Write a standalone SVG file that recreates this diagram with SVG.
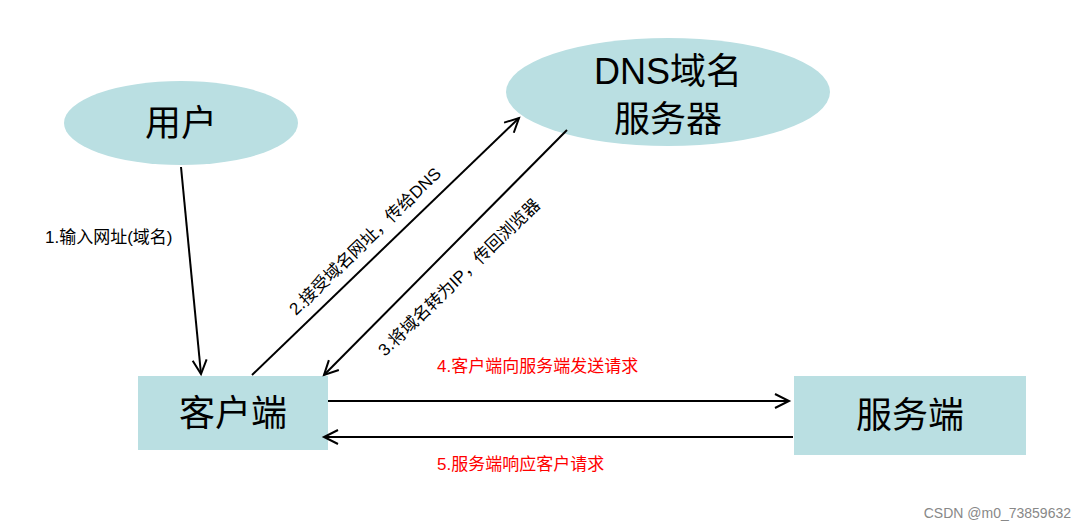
<svg xmlns="http://www.w3.org/2000/svg" width="1086" height="530" viewBox="0 0 1086 530">
<style>
.n{fill:#badfe2}
.t{font-family:"Liberation Sans","Noto Sans CJK SC",sans-serif;fill:#000}
.big{font-size:36px;text-anchor:middle}
.lab{font-size:17px}
.red{fill:#ff0000}
.c line{stroke:#000;stroke-width:2;fill:none;marker-end:url(#a)}
</style>
<defs><marker id="a" markerWidth="20" markerHeight="20" refX="16" refY="8" orient="auto" markerUnits="userSpaceOnUse"><path d="M2,1 L16,8 L2,15" fill="none" stroke="#000" stroke-width="2"/></marker></defs>
<rect width="1086" height="530" fill="#fff"/>
<g id="user"><ellipse class="n" cx="181" cy="123" rx="117" ry="42"/><text class="t big" x="181" y="136">用户</text></g>
<g id="dns"><ellipse class="n" cx="668" cy="92" rx="162" ry="54"/><text class="t big" x="668" y="84">DNS域名</text><text class="t big" x="668" y="132">服务器</text></g>
<g id="client"><rect class="n" x="138" y="376" width="190" height="74"/><text class="t big" x="233" y="426">客户端</text></g>
<g id="server"><rect class="n" x="794" y="376" width="232" height="79"/><text class="t big" x="910" y="428">服务端</text></g>
<g class="c">
<line x1="181" y1="167" x2="201" y2="374"/>
<line x1="252" y1="375" x2="519" y2="118"/>
<line x1="567" y1="130" x2="324" y2="375"/>
<line x1="328" y1="401" x2="789" y2="401"/>
<line x1="793" y1="437" x2="324" y2="437"/>
</g>
<text class="t lab" x="45" y="243">1.输入网址(域名)</text>
<text class="t lab" transform="translate(296,316) rotate(-44)">2.接受域名网址，传给DNS</text>
<text class="t lab" transform="translate(385,357) rotate(-44)">3.将域名转为IP，传回浏览器</text>
<text class="t lab red" x="437" y="372">4.客户端向服务端发送请求</text>
<text class="t lab red" x="437" y="470">5.服务端响应客户请求</text>
<text class="t" x="1071" y="518" font-size="14" fill="#888" text-anchor="end" style="fill:#888">CSDN @m0_73859632</text>
</svg>
